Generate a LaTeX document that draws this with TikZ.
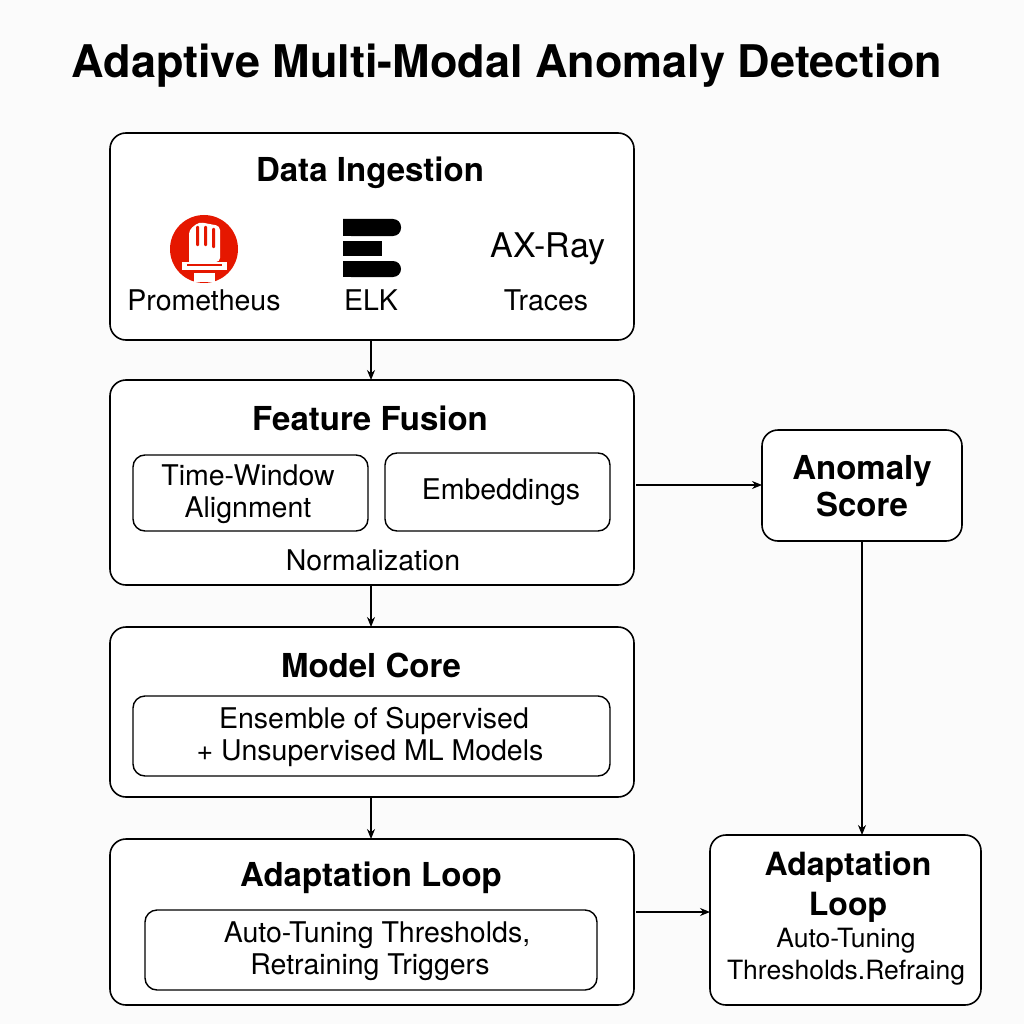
\documentclass[tikz,border=0pt]{standalone}
\usepackage{fontspec}
\setmainfont{TeX Gyre Heros}
\usetikzlibrary{arrows.meta}
\begin{document}
\begin{tikzpicture}[x=1pt,y=-1pt,
 box/.style={draw,line width=1.6pt,rounded corners=16pt},
 ibox/.style={draw,line width=1.4pt,rounded corners=12pt},
 ttl/.style={font=\fontsize{33}{38}\selectfont\bfseries},
 txt/.style={font=\fontsize{28.5}{32}\selectfont,align=center},
 arr/.style={-{Stealth[length=10pt,width=8pt]},line width=1.2pt}]
\fill[white!97!gray] (0,0) rectangle (1024,1024);
\useasboundingbox (0,0) rectangle (1024,1024);
\node[font=\fontsize{45}{50}\selectfont\bfseries] (title) at (507,66) {Adaptive Multi-Modal Anomaly Detection};
% Data ingestion
\draw[box,fill=white] (110,133) rectangle (634,340);
\coordinate (di_b) at (371,340);
\node[ttl] (dit) at (370,173) {Data Ingestion};
\fill[red!80!orange!90!black] (204,249) circle (34);
\fill[white,rounded corners=4pt] (189,262) -- (189,230) -- (199,222) -- (220,226) -- (220,262) [sharp corners] -- cycle;
\fill[white] (182,262) rectangle (227,270);
\fill[white] (194,273) rectangle (215,282);
\fill[red!80!orange!90!black,rounded corners=1pt] (196,226) rectangle (199,246);
\fill[red!80!orange!90!black,rounded corners=1pt] (204,226) rectangle (207,246);
\fill[red!80!orange!90!black,rounded corners=1pt] (212,228) rectangle (215,248);
\fill[red!80!orange!90!black] (187,264) rectangle (222,266);
\node[txt] (prom) at (204,300) {Prometheus};
\fill[black,rounded corners=8pt] (343,219) -- (401,219) -- (401,236) -- (343,236) [sharp corners] -- cycle;
\fill[black] (343,219) rectangle (390,236);
\fill[black] (343,241) rectangle (382,256);
\fill[black,rounded corners=8pt] (343,261) -- (401,261) -- (401,277) -- (343,277) -- cycle;
\fill[black] (343,261) rectangle (385,277);
\node[txt] (elk) at (371,300) {ELK};
\node[font=\fontsize{34}{36}\selectfont] (ax) at (548,249) {AX-Ray};
\node[txt] (tr) at (546,300) {Traces};
% Feature fusion
\draw[box,fill=white] (110,380) rectangle (634,585);
\coordinate (ff_t) at (371,380); \coordinate (ff_b) at (371,585); \coordinate (ff_r) at (636,485);
\node[ttl] (fft) at (370,418) {Feature Fusion};
\draw[ibox] (133,455) rectangle (368,531);
\node[txt] (twa) at (248,494) {Time-Window\\Alignment};
\draw[ibox] (385,453) rectangle (610,531);
\node[txt] (emb) at (501,492) {Embeddings};
\node[txt] (norm) at (373,560) {Normalization};
% Model core
\draw[box,fill=white] (110,627) rectangle (634,797);
\coordinate (mc_t) at (371,627); \coordinate (mc_b) at (371,797);
\node[ttl] (mct) at (371,665) {Model Core};
\draw[ibox] (133,696) rectangle (610,776);
\node[txt] (ens) at (370,737) {\hspace*{8pt}Ensemble of Supervised\\+ Unsupervised ML Models};
% Adaptation loop
\draw[box,fill=white] (110,839) rectangle (634,1005);
\coordinate (al_t) at (371,839); \coordinate (al_r) at (636,912);
\node[ttl] (alt) at (371,878) {Adaptation Loop};
\draw[ibox] (145,910) rectangle (597,990);
\node[txt] (auto) at (370,951) {\hspace*{14pt}Auto-Tuning Thresholds,\\Retraining Triggers};
% Anomaly score
\draw[box,fill=white] (762,430) rectangle (962,541);
\coordinate (as_l) at (762,485); \coordinate (as_b) at (862,541);
\node[ttl,align=center,font=\fontsize{33}{37}\selectfont\bfseries] (ast) at (862,486) {Anomaly\\Score};
% Right adaptation loop
\draw[box,fill=white] (710,835) rectangle (981,1005);
\coordinate (ra_t) at (862,835); \coordinate (ra_l) at (710,912);
\node[ttl,align=center,font=\fontsize{32}{40}\selectfont\bfseries] (rat) at (848,887) {Adaptation\\Loop};
\node[txt,font=\fontsize{26.5}{32}\selectfont] (rtx) at (846,957) {Auto-Tuning\\Thresholds.Refraing};
% arrows
\draw[arr] (di_b) -- (ff_t);
\draw[arr] (ff_b) -- (mc_t);
\draw[arr] (mc_b) -- (al_t);
\draw[arr] (ff_r) -- (as_l);
\draw[arr] (as_b) -- (ra_t);
\draw[arr] (al_r) -- (ra_l);
\end{tikzpicture}
\end{document}
